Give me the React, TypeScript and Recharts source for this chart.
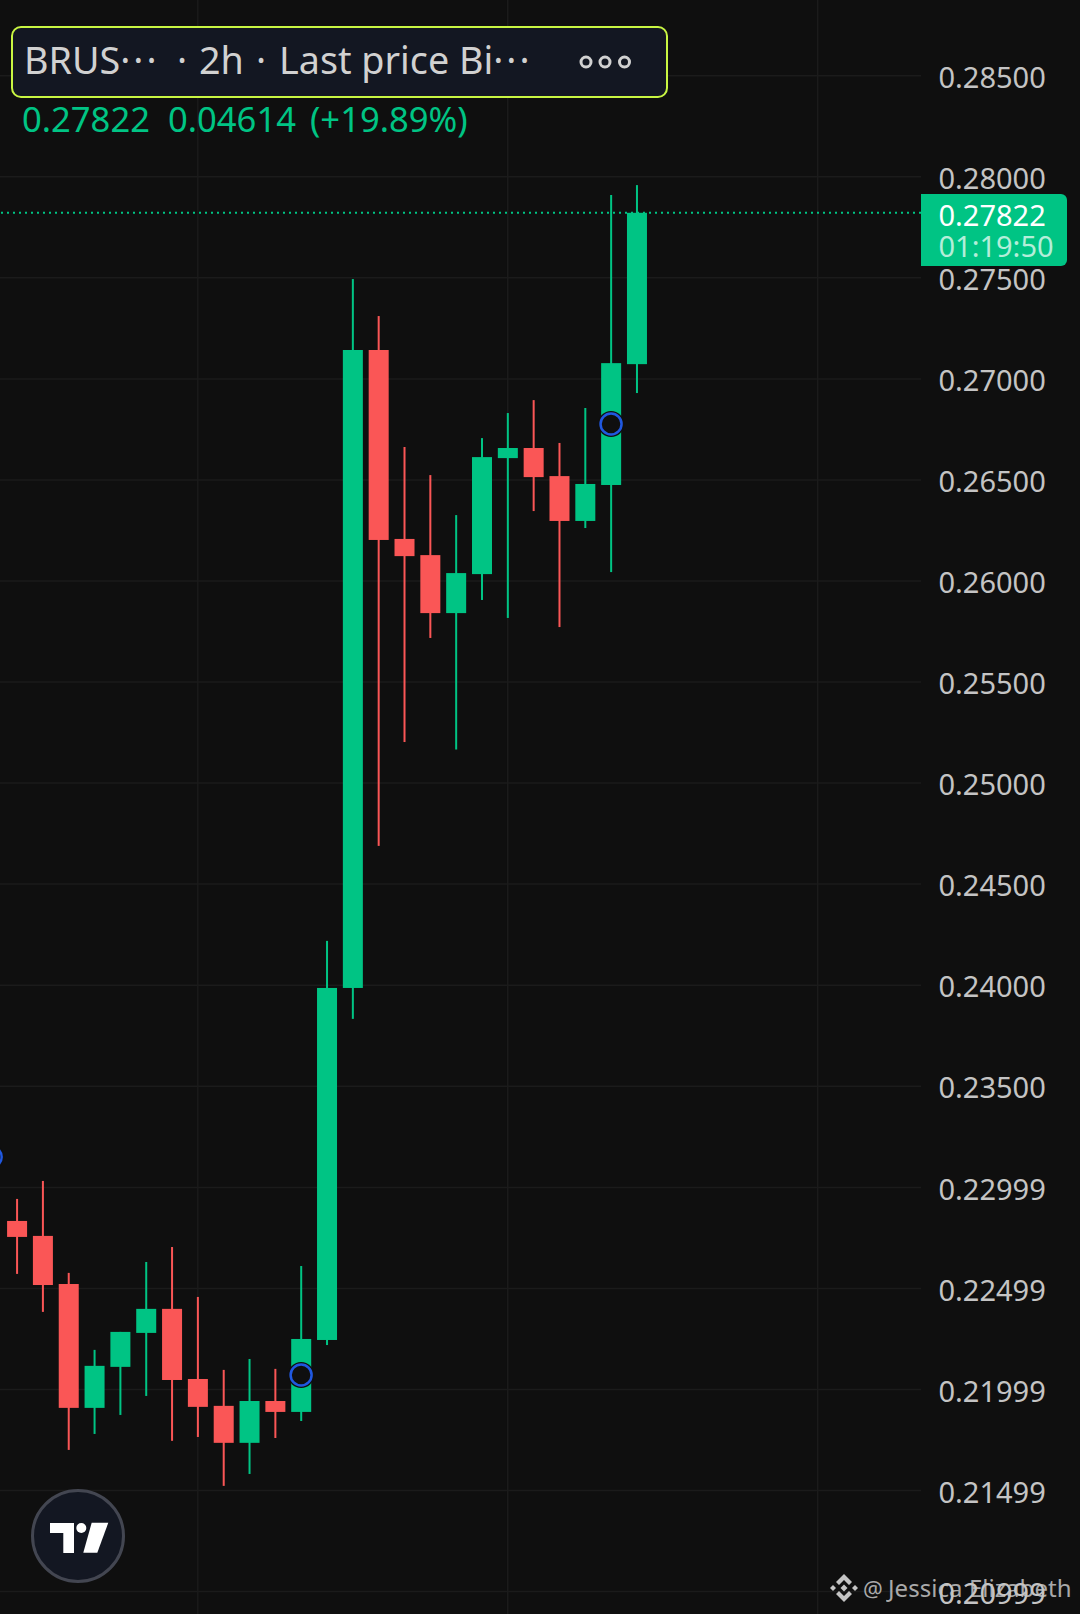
import React from "react";
import { ComposedChart, Bar, XAxis, YAxis, CartesianGrid, ReferenceLine, ReferenceDot } from "recharts";

const indices = [0,1,2,3,4,5,6,7,8,9,10,11,12,13,14,15,16,17,18,19,20,21,22,23,24];
const opens = [0.22833,0.22759,0.22521,0.21908,0.22111,0.22279,0.22398,0.22051,0.21918,0.21735,0.21942,0.21888,0.22244,0.23986,0.27143,0.26208,0.26128,0.25841,0.26034,0.26608,0.26658,0.26519,0.26297,0.26475,0.27073];
const highs = [0.22942,0.23031,0.22576,0.22195,0.22284,0.2263,0.22704,0.22457,0.22096,0.2215,0.22101,0.2261,0.24219,0.27494,0.27311,0.26663,0.26524,0.26326,0.26707,0.26831,0.26895,0.26683,0.26856,0.2791,0.27959];
const lows = [0.22571,0.22383,0.217,0.21779,0.21873,0.21967,0.21745,0.21764,0.21522,0.21581,0.21759,0.21843,0.22219,0.23833,0.24689,0.25203,0.25718,0.25166,0.25906,0.25817,0.26346,0.25772,0.26262,0.26044,0.2693];
const closes = [0.22754,0.22516,0.21908,0.22116,0.22284,0.22398,0.22046,0.21913,0.21735,0.21942,0.21888,0.22249,0.23986,0.27143,0.26203,0.26123,0.25841,0.26039,0.26613,0.26658,0.26514,0.26297,0.2648,0.27078,0.27822];

const priceTicks = [0.285,0.28,0.275,0.27,0.265,0.26,0.255,0.25,0.245,0.24,0.235,0.22999,0.22499,0.21999,0.21499,0.20999];
const timeTicks = [7,19,31];
const lastPrice = 0.27822;
const markers = [
  { x: 11, y: 0.22071 },
  { x: 23, y: 0.26777 },
  { x: -1, y: 0.2315 },
];

const rows = indices.map((i) => ({ i, open: opens[i], high: highs[i], low: lows[i], close: closes[i] }));

const GREEN = "#00c484";
const RED = "#fa5656";
const BG = "#0f0f0f";
const FONT = "'Noto Sans', sans-serif";

function Candle(props: any) {
  const { x, y, width, height, payload } = props;
  const { open, close, high, low } = payload;
  const color = close >= open ? GREEN : RED;
  const per = height / (high - low);
  const top = y + (high - Math.max(open, close)) * per;
  const bottom = y + (high - Math.min(open, close)) * per;
  const cx = x + width / 2;
  return (
    <g>
      <rect x={cx - 1} y={y} width={2} height={height} fill={color} />
      <rect x={cx - 10} y={top} width={20} height={bottom - top} fill={color} />
    </g>
  );
}

function Marker(props: any) {
  const { cx, cy } = props;
  return (
    <g>
      <circle cx={cx} cy={cy} r={13} fill={BG} />
      <circle cx={cx} cy={cy} r={10.5} fill={BG} stroke="#2058e0" strokeWidth={2.5} />
    </g>
  );
}

const abs = (s: React.CSSProperties): React.CSSProperties => ({ position: "absolute", whiteSpace: "pre", fontFamily: FONT, ...s });
const headerStyle = { top: 35, fontSize: 37.7, lineHeight: "50px", color: "#d1d1d1" };
const statStyle = { top: 96, fontSize: 34.6, lineHeight: "46px", color: GREEN };

export default function App() {
  return (
    <div style={{ position: "absolute", left: 0, top: 0, width: 1080, height: 1614, background: BG, overflow: "hidden" }}>
      <ComposedChart width={1080} height={1614} data={rows} margin={{ top: 0, right: 0, bottom: 0, left: 0 }}>
        <CartesianGrid stroke="#1b1b1b" strokeWidth={1.5} horizontalValues={priceTicks} verticalValues={timeTicks} />
        <XAxis dataKey="i" type="number" domain={[-0.658, 35]} ticks={timeTicks} hide allowDataOverflow />
        <YAxis
          orientation="right"
          width={159}
          type="number"
          domain={[0.20888, 0.28875]}
          ticks={priceTicks}
          interval={0}
          allowDataOverflow
          axisLine={false}
          tickLine={false}
          tickSize={0}
          tickMargin={17.5}
          tickFormatter={(v: number) => v.toFixed(5)}
          tick={{ fill: "#c4c4c4", fontSize: 29, fontFamily: FONT, dy: 2 }}
        />
        <ReferenceLine y={lastPrice} stroke={GREEN} strokeWidth={2} strokeDasharray="2 4" />
        <Bar dataKey={(d: any) => [d.low, d.high]} barSize={20} shape={Candle} isAnimationActive={false} />
        {markers.map((m) => (
          <ReferenceDot key={m.x} x={m.x} y={m.y} r={10} ifOverflow="visible" shape={Marker} />
        ))}
      </ComposedChart>

      <div style={{ position: "absolute", left: 11, top: 26, width: 657, height: 72, boxSizing: "border-box", background: "#131722", border: "2px solid #c8f542", borderRadius: 10 }} />
      <div style={abs({ left: 24, ...headerStyle })}>BRUS<span style={{ letterSpacing: 3 }}>···</span></div>
      <div style={abs({ left: 177, ...headerStyle })}>·</div>
      <div style={abs({ left: 199, ...headerStyle })}>2h</div>
      <div style={abs({ left: 256, ...headerStyle })}>·</div>
      <div style={abs({ left: 279, ...headerStyle })}>Last price Bi<span style={{ letterSpacing: 3 }}>···</span></div>
      <svg width={80} height={30} style={{ position: "absolute", left: 570, top: 47 }}>
        {[16, 35, 54.5].map((c) => (
          <circle key={c} cx={c} cy={15} r={5} fill="none" stroke="#d1d1d1" strokeWidth={3} />
        ))}
      </svg>
      <div style={abs({ left: 22, ...statStyle })}>0.27822</div>
      <div style={abs({ left: 168, ...statStyle })}>0.04614</div>
      <div style={abs({ left: 310, ...statStyle })}>(+19.89%)</div>

      <div style={{ position: "absolute", left: 921, top: 194, width: 146, height: 72, background: GREEN, borderRadius: "0 6px 6px 0" }} />
      <div style={abs({ left: 938.5, top: 196, fontSize: 29, lineHeight: "38px", color: "#ffffff" })}>0.27822</div>
      <div style={abs({ left: 938.5, top: 227, fontSize: 29, lineHeight: "38px", color: "#b3eed9" })}>01:19:50</div>

      <svg width={100} height={100} style={{ position: "absolute", left: 28, top: 1486 }}>
        <g transform="translate(-28,-1486)">
          <circle cx={78} cy={1536} r={45.5} fill="#131722" stroke="#434651" strokeWidth={3} />
          <path d="M50 1523H74V1553H63.3V1533H50Z" fill="#ffffff" />
          <circle cx={81.3} cy={1528} r={5} fill="#ffffff" />
          <path d="M91.7 1522.7H108.3L97.3 1552.7H83.3Z" fill="#ffffff" />
        </g>
      </svg>

      <svg width={32} height={32} style={{ position: "absolute", left: 828, top: 1572 }}>
        <g fill="#c4c4c4" transform="translate(16,16)">
          <path d="M0 -14L8 -6L5 -3L0 -8L-5 -3L-8 -6Z" />
          <path d="M0 14L8 6L5 3L0 8L-5 3L-8 6Z" />
          <path d="M-14 0L-11 -3L-8 0L-11 3Z" />
          <path d="M14 0L11 -3L8 0L11 3Z" />
          <path d="M0 -3.5L3.5 0L0 3.5L-3.5 0Z" />
        </g>
      </svg>
      <div style={abs({ left: 863, top: 1570, fontSize: 22, lineHeight: "36px", color: "#c4c4c4", opacity: 0.85 })}>@</div>
      <div style={abs({ left: 888, top: 1570, fontSize: 24, lineHeight: "36px", color: "#c4c4c4", opacity: 0.85, letterSpacing: 0.05 })}>Jessica Elizabeth</div>
    </div>
  );
}
